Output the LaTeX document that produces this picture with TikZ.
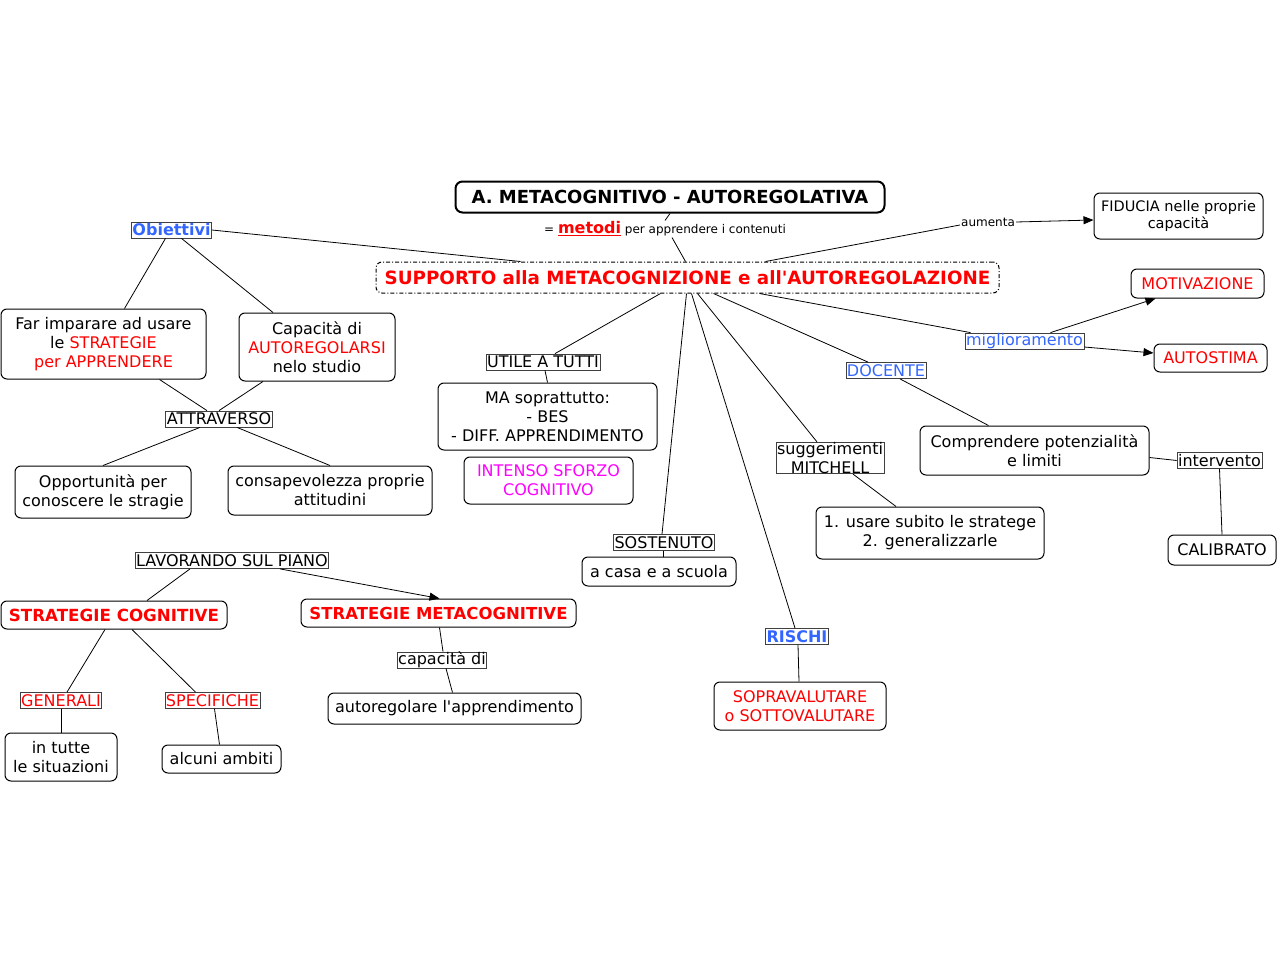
\documentclass[tikz,border=0pt]{standalone}
\usepackage{fontspec}
\setmainfont{DejaVu Sans}
\newfontfamily\aposfont{DejaVu Sans}
\newcommand{\ap}{{\aposfont'}}
\usetikzlibrary{shapes,arrows.meta}
\definecolor{cmblue}{RGB}{51,102,255}
\definecolor{cmmag}{RGB}{255,0,255}
\tikzset{
  box/.style={shape=rectangle,rounded corners=6pt,draw=black,align=center,line width=1pt,inner sep=0pt,font=\fontsize{16}{19}\selectfont},
  lbl/.style={shape=rectangle,draw=black!75,align=center,line width=0.8pt,inner xsep=1pt,inner ysep=0pt,minimum height=16pt,font=\fontsize{16}{19}\selectfont},
  conn/.style={-,draw=black,line width=0.8pt},
  arr/.style={-{Triangle[length=10pt,width=8pt]},draw=black,line width=0.8pt},
}

\begin{document}
\begin{tikzpicture}[x=1pt,y=-1pt]
\useasboundingbox (0,0) rectangle (1280,963);
\node[box,line width=2pt,rounded corners=7pt,minimum width=429,minimum height=31,font=\fontsize{18}{21}\selectfont\bfseries] (0) at (670,197) {A. METACOGNITIVO - AUTOREGOLATIVA};
\node[align=center,inner sep=1pt,font=\fontsize{12}{14}\selectfont] (1) at (665,229) {= {\fontsize{16}{18}\selectfont\bfseries\color{red}\underline{metodi}} per apprendere i contenuti};
\node[box,dash pattern=on 4pt off 2pt on 1pt off 2pt,minimum width=623,minimum height=31,text=red,font=\fontsize{18.3}{21}\selectfont\bfseries] (2) at (687.5,277.5) {SUPPORTO alla METACOGNIZIONE e all\ap AUTOREGOLAZIONE};
\node[lbl,text=cmblue,font=\fontsize{16}{19}\selectfont\bfseries] (3) at (171.5,230) {Obiettivi};
\node[box,minimum width=205,minimum height=70] (4) at (103.5,344) {Far imparare ad usare\\le \textcolor{red}{STRATEGIE}\\\textcolor{red}{per APPRENDERE}};
\node[box,minimum width=156,minimum height=68] (5) at (317,347) {Capacità di\\\textcolor{red}{AUTOREGOLARSI}\\nelo studio};
\node[lbl] (6) at (219,419) {ATTRAVERSO};
\node[box,minimum width=176,minimum height=52] (7) at (103,492) {Opportunità per\\conoscere le stragie};
\node[box,minimum width=204,minimum height=49] (8) at (330,490.5) {consapevolezza proprie\\attitudini};
\node[lbl] (9) at (543,362) {UTILE A TUTTI};
\node[box,minimum width=219,minimum height=67] (10) at (547.5,416.5) {MA soprattutto:\\- BES\\- DIFF. APPRENDIMENTO};
\node[box,minimum width=169,minimum height=47,text=cmmag] (11) at (548.5,480.5) {INTENSO SFORZO\\COGNITIVO};
\node[lbl] (12) at (664,542.5) {SOSTENUTO};
\node[box,minimum width=154,minimum height=29] (13) at (659,571.5) {a casa e a scuola};
\node[lbl,text=cmblue,font=\fontsize{16}{19}\selectfont\bfseries] (14) at (797,636.5) {RISCHI};
\node[box,minimum width=172,minimum height=48,text=red] (15) at (800,706) {SOPRAVALUTARE\\o SOTTOVALUTARE};
\node[lbl] (16) at (830,458) {suggerimenti\\MITCHELL};
\node[box,minimum width=228,minimum height=52] (17) at (930,533) {1. usare subito le stratege\\2. generalizzarle};
\node[lbl,text=cmblue] (18) at (886,370.5) {DOCENTE};
\node[box,minimum width=229,minimum height=49] (19) at (1034.5,450.5) {Comprendere potenzialità\\e limiti};
\node[lbl] (20) at (1219.5,460.5) {intervento};
\node[box,minimum width=108,minimum height=30] (21) at (1222,550) {CALIBRATO};
\node[lbl,text=cmblue] (22) at (1024.5,341) {miglioramento};
\node[box,minimum width=133,minimum height=29,text=red] (23) at (1197.5,283.5) {MOTIVAZIONE};
\node[box,minimum width=113,minimum height=28,text=red] (24) at (1210.5,358) {AUTOSTIMA};
\node[inner sep=1pt,font=\fontsize{12}{14}\selectfont] (25) at (988,222) {aumenta};
\node[box,minimum width=169,minimum height=46,font=\fontsize{14.5}{17}\selectfont] (26) at (1178.5,216) {FIDUCIA nelle proprie\\capacità};
\node[lbl] (27) at (232,560.5) {LAVORANDO SUL PIANO};
\node[box,minimum width=226,minimum height=28,text=red,font=\fontsize{16.7}{19}\selectfont\bfseries] (28) at (114,615) {STRATEGIE COGNITIVE};
\node[box,minimum width=275,minimum height=28,text=red,font=\fontsize{16.5}{19}\selectfont\bfseries] (29) at (438.5,613) {STRATEGIE METACOGNITIVE};
\node[lbl,text=red] (30) at (61,700.5) {GENERALI};
\node[box,minimum width=112,minimum height=48] (31) at (61,757) {in tutte\\le situazioni};
\node[lbl,text=red] (32) at (212.5,700.5) {SPECIFICHE};
\node[box,minimum width=119,minimum height=28] (33) at (221.5,759) {alcuni ambiti};
\node[lbl] (34) at (442,660) {capacità di};
\node[box,minimum width=253,minimum height=31] (35) at (454.5,708.5) {autoregolare l\ap apprendimento};

\path [conn] (0.south) edge node {} (1.north);
\path [conn] ([xshift=7]1.south) edge node {} ([xshift=-2]2.north);
\path [conn] (3.east) edge node {} ([xshift=-167]2.north);
\path [conn] ([xshift=-6]3.south) edge node {} ([xshift=21]4.north);
\path [conn] ([xshift=10]3.south) edge node {} ([xshift=-44]5.north);
\path [conn] ([xshift=56]4.south) edge node {} ([xshift=-12]6.north);
\path [conn] ([xshift=-54]5.south) edge node {} (6.north);
\path [conn] ([xshift=-19]6.south) edge node {} (7.north);
\path [conn] ([xshift=18]6.south) edge node {} (8.north);
\path [conn] ([xshift=-27]2.south) edge node {} ([xshift=12]9.north);
\path [conn] ([xshift=2]9.south) edge node {} (10.north);
\path [conn] ([xshift=-1]2.south) edge node {} ([xshift=-2]12.north);
\path [conn] ([xshift=-1]12.south) edge node {} ([xshift=4]13.north);
\path [conn] ([xshift=4]2.south) edge node {} ([xshift=-2]14.north);
\path [conn] ([xshift=1]14.south) edge node {} ([xshift=-1]15.north);
\path [conn] ([xshift=10]2.south) edge node {} ([xshift=-13]16.north);
\path [conn] ([xshift=23]16.south) edge node {} ([xshift=-34]17.north);
\path [conn] ([xshift=26]2.south) edge node {} ([xshift=-18]18.north);
\path [conn] ([xshift=14]18.south) edge node {} ([xshift=-46]19.north);
\path [conn] ([yshift=-7]19.east) edge node {} (20.west);
\path [conn] (20.south) edge node {} (21.north);
\path [conn] ([xshift=72]2.south) edge node {} ([xshift=-54]22.north);
\path ([xshift=26]22.north) edge [arr] node {} ([xshift=-42]23.south);
\path ([yshift=-6]22.east) edge [arr] node {} ([yshift=5]24.west);
\path [conn] ([xshift=78]2.north) edge node {} ([yshift=-3]25.west);
\path (25.east) edge [arr] node {} ([yshift=-4]26.west);
\path [conn] ([xshift=-42]27.south) edge node {} ([xshift=33]28.north);
\path ([xshift=48]27.south) edge [arr] node {} ([xshift=1]29.north);
\path [conn] ([xshift=-9]28.south) edge node {} ([xshift=6]30.north);
\path [conn] (30.south) edge node {} (31.north);
\path [conn] ([xshift=18]28.south) edge node {} ([xshift=-17]32.north);
\path [conn] ([xshift=2]32.south) edge node {} ([xshift=-2]33.north);
\path [conn] ([xshift=1]29.south) edge node {} ([xshift=1]34.north);
\path [conn] ([xshift=4]34.south) edge node {} ([xshift=-2]35.north);
\end{tikzpicture}
\end{document}
